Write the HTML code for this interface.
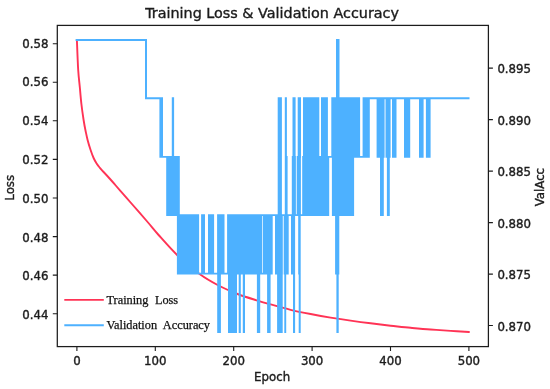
<!DOCTYPE html>
<html lang="en">
<head>
<meta charset="utf-8">
<title>Training Loss &amp; Validation Accuracy</title>
<style>
html,body{margin:0;padding:0;background:#fff;}
body{width:550px;height:389px;overflow:hidden;}
svg{display:block;filter:blur(0.35px);}
.t{font-family:"DejaVu Sans","Liberation Sans",sans-serif;font-size:11.75px;fill:#1c1c1c;stroke:#1c1c1c;stroke-width:0.38px;}
.title{font-family:"DejaVu Sans","Liberation Sans",sans-serif;font-size:14.35px;fill:#1c1c1c;stroke:#1c1c1c;stroke-width:0.38px;}
.lg{font-family:"Liberation Serif","DejaVu Serif",serif;font-size:12.3px;fill:#111;stroke:#111;stroke-width:0.25px;word-spacing:3.4px;}
</style>
</head>
<body>
<svg width="550" height="389" viewBox="0 0 550 389">
<rect width="550" height="389" fill="#fff"/>
<path d="M76.9 39.9C77.1 44.9 77.7 62.0 78.2 70.0C78.7 78.0 79.4 82.3 79.9 88.0C80.4 93.7 80.8 98.7 81.4 104.0C82.0 109.3 82.9 115.5 83.6 120.0C84.3 124.5 84.9 127.7 85.6 131.0C86.3 134.3 86.8 136.8 87.6 140.0C88.4 143.2 89.6 147.0 90.6 150.0C91.6 153.0 92.6 155.8 93.6 158.0C94.6 160.2 95.6 161.9 96.6 163.5C97.6 165.1 98.4 166.1 99.6 167.5C100.8 168.9 101.9 170.2 103.6 172.0C105.3 173.8 107.8 176.5 109.6 178.5C111.4 180.5 112.8 182.1 114.6 184.2C116.4 186.3 117.9 188.0 120.6 191.1C123.3 194.2 126.1 197.3 130.6 202.5C135.1 207.7 142.9 216.6 147.6 222.0C152.3 227.4 153.6 229.4 158.6 235.0C163.6 240.6 170.8 249.0 177.6 255.5C184.4 262.0 192.8 269.0 199.6 274.0C206.4 279.0 212.3 282.2 218.6 285.5C224.9 288.8 231.3 291.5 237.6 294.0C243.9 296.5 251.1 298.6 256.6 300.3C262.1 302.0 264.9 302.8 270.6 304.4C276.3 306.0 283.9 308.2 290.6 309.8C297.3 311.4 303.9 312.7 310.6 314.0C317.3 315.3 323.9 316.5 330.6 317.6C337.3 318.7 343.9 319.7 350.6 320.6C357.3 321.6 363.9 322.5 370.6 323.3C377.3 324.1 383.9 324.9 390.6 325.7C397.3 326.4 403.9 327.2 410.6 327.8C417.3 328.4 423.9 329.0 430.6 329.5C437.3 330.0 444.2 330.5 450.6 330.9C457.0 331.3 465.9 331.8 469.0 332.0" fill="none" stroke="#ff3355" stroke-width="1.9" stroke-linecap="round" stroke-linejoin="round"/>
<path d="M145.0 38.9H147.0V99.2H145.0ZM336.0 38.9H339.5V99.2H336.0ZM159.4 97.3H163.0V157.8H159.4ZM171.8 97.3H174.1V157.8H171.8ZM277.7 97.3H281.9V157.8H277.7ZM284.8 97.3H286.9V157.8H284.8ZM292.5 97.3H295.6V157.8H292.5ZM297.7 97.3H301.0V157.8H297.7ZM303.0 97.3H319.3V157.8H303.0ZM321.0 97.3H327.9V157.8H321.0ZM331.3 97.3H360.1V157.8H331.3ZM362.6 97.3H369.8V157.8H362.6ZM376.6 97.3H384.6V157.8H376.6ZM385.5 97.3H390.6V157.8H385.5ZM392.0 97.3H396.5V157.8H392.0ZM404.0 97.3H410.2V157.8H404.0ZM419.0 97.3H423.6V157.8H419.0ZM425.9 97.3H430.6V157.8H425.9ZM166.2 155.9H179.8V216.1H166.2ZM277.7 155.9H281.9V216.1H277.7ZM284.8 155.9H287.6V216.1H284.8ZM291.8 155.9H295.9V216.1H291.8ZM296.7 155.9H300.9V216.1H296.7ZM302.2 155.9H329.2V216.1H302.2ZM331.9 155.9H354.1V216.1H331.9ZM380.0 155.9H383.8V216.1H380.0ZM386.9 155.9H389.8V216.1H386.9ZM176.9 214.2H199.1V274.6H176.9ZM201.1 214.2H205.0V274.6H201.1ZM208.0 214.2H214.1V274.6H208.0ZM217.1 214.2H224.5V274.6H217.1ZM227.1 214.2H262.2V274.6H227.1ZM262.9 214.2H272.7V274.6H262.9ZM275.0 214.2H282.8V274.6H275.0ZM283.7 214.2H288.7V274.6H283.7ZM291.0 214.2H295.1V274.6H291.0ZM298.2 214.2H300.7V274.6H298.2ZM335.1 214.2H339.3V274.6H335.1ZM217.2 272.8H220.9V333.1H217.2ZM228.0 272.8H237.0V333.1H228.0ZM238.7 272.8H240.8V333.1H238.7ZM242.8 272.8H245.0V333.1H242.8ZM256.9 272.8H260.2V333.1H256.9ZM267.1 272.8H270.6V333.1H267.1ZM277.1 272.8H282.7V333.1H277.1ZM284.3 272.8H286.2V333.1H284.3ZM293.0 272.8H295.1V333.1H293.0ZM298.7 272.8H300.7V333.1H298.7ZM336.4 272.8H338.7V333.1H336.4ZM75.6 38.9H147.0V40.9H75.6ZM145.0 97.3H162.0V99.2H145.0ZM303.0 97.3H319.3V99.2H303.0ZM321.0 97.3H327.9V99.2H321.0ZM331.3 97.3H360.1V99.2H331.3ZM362.6 97.3H469.5V99.2H362.6ZM160.0 155.9H179.8V157.8H160.0ZM327.9 155.9H332.5V157.8H327.9ZM353.0 155.9H363.6V157.8H353.0ZM166.2 214.2H199.1V216.1H166.2ZM262.0 214.2H329.2V216.1H262.0ZM331.9 214.2H354.1V216.1H331.9ZM176.9 272.8H263.0V274.6H176.9Z" fill="#4db1ff"/>
<line x1="64.3" y1="299.8" x2="103.8" y2="299.8" stroke="#ff3355" stroke-width="1.8"/>
<line x1="64.3" y1="325.2" x2="103.8" y2="325.2" stroke="#4db1ff" stroke-width="2"/>
<text class="lg" x="106.5" y="304.3">Training Loss</text>
<text class="lg" x="106.5" y="329.4">Validation Accuracy</text>
<rect x="57.3" y="25.4" width="431.1" height="321.2" fill="none" stroke="#1c1c1c" stroke-width="1.25"/>
<text class="t" x="76.9" y="364.6" text-anchor="middle">0</text>
<text class="t" x="155.3" y="364.6" text-anchor="middle">100</text>
<text class="t" x="233.7" y="364.6" text-anchor="middle">200</text>
<text class="t" x="312.1" y="364.6" text-anchor="middle">300</text>
<text class="t" x="390.5" y="364.6" text-anchor="middle">400</text>
<text class="t" x="468.9" y="364.6" text-anchor="middle">500</text>
<text class="t" x="48.4" y="47.6" text-anchor="end">0.58</text>
<text class="t" x="48.4" y="86.4" text-anchor="end">0.56</text>
<text class="t" x="48.4" y="125.1" text-anchor="end">0.54</text>
<text class="t" x="48.4" y="163.9" text-anchor="end">0.52</text>
<text class="t" x="48.4" y="202.7" text-anchor="end">0.50</text>
<text class="t" x="48.4" y="241.5" text-anchor="end">0.48</text>
<text class="t" x="48.4" y="280.2" text-anchor="end">0.46</text>
<text class="t" x="48.4" y="319.0" text-anchor="end">0.44</text>
<text class="t" x="497.4" y="73.1">0.895</text>
<text class="t" x="497.4" y="124.6">0.890</text>
<text class="t" x="497.4" y="176.1">0.885</text>
<text class="t" x="497.4" y="227.6">0.880</text>
<text class="t" x="497.4" y="279.1">0.875</text>
<text class="t" x="497.4" y="330.5">0.870</text>
<path d="M76.9 346.6v4.5M155.3 346.6v4.5M233.7 346.6v4.5M312.1 346.6v4.5M390.5 346.6v4.5M468.9 346.6v4.5M57.3 43.7h-4.5M57.3 82.3h-4.5M57.3 120.8h-4.5M57.3 159.4h-4.5M57.3 198.0h-4.5M57.3 236.6h-4.5M57.3 275.1h-4.5M57.3 313.7h-4.5M488.4 68.1h4.5M488.4 119.6h4.5M488.4 171.1h4.5M488.4 222.6h4.5M488.4 274.1h4.5M488.4 325.5h4.5" stroke="#1c1c1c" stroke-width="1.1" fill="none"/>
<text class="title" x="272.1" y="18.4" text-anchor="middle">Training Loss &amp; Validation Accuracy</text>
<text class="t" x="272.1" y="381.4" text-anchor="middle">Epoch</text>
<text class="t" transform="translate(14.4 187.8) rotate(-90)" text-anchor="middle">Loss</text>
<text class="t" transform="translate(544.4 187.1) rotate(-90)" text-anchor="middle">ValAcc</text>
</svg>
</body>
</html>
